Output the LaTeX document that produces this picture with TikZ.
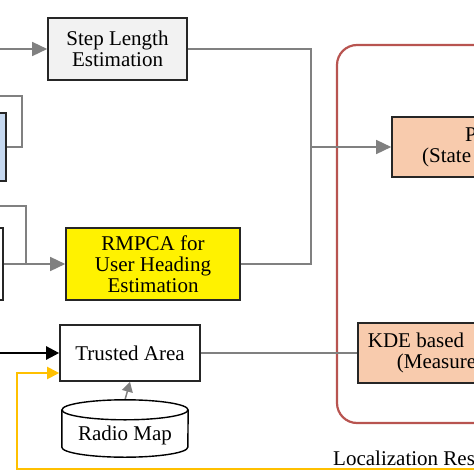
\documentclass[tikz,border=0pt]{standalone}
\usepackage{fontspec}
\setmainfont{Liberation Serif}
\usetikzlibrary{arrows.meta}

\definecolor{peach}{RGB}{248,203,173}
\definecolor{paleblue}{RGB}{198,217,240}
\definecolor{filterred}{RGB}{184,84,80}
\definecolor{amber}{RGB}{255,192,0}
\definecolor{linegray}{RGB}{128,128,128}
\definecolor{stepgray}{RGB}{242,242,242}

\begin{document}
\begin{tikzpicture}[x=1pt, y=-1pt, >={Triangle[length=15pt,width=14pt]},
  font=\fontsize{21}{21}\selectfont,
  block/.style={rectangle, draw=black!85, line width=1.6pt, inner sep=0pt, align=center},
  link/.style={draw=linegray, line width=1.5pt},
  fb/.style={draw=amber, line width=2pt, -{Triangle[length=12pt,width=12pt]}, amber}]
  \useasboundingbox (0,0) rectangle (474,474);

  % Nodes
  \node[block, fill=stepgray, minimum width=139pt, minimum height=62pt] (steplen) at (117.5,49) {Step Length\\Estimation};
  \node[block, fill=paleblue, minimum width=66pt, minimum height=68pt] (imu) at (-27,147) {};
  \node[block, fill=white, minimum width=66pt, minimum height=72pt] (mag) at (-30,264) {};
  \node[block, fill=yellow, minimum width=174pt, minimum height=72pt] (rmpca) at (153,264) {RMPCA for\\User Heading\\Estimation};
  \node[block, fill=white, minimum width=140pt, minimum height=56pt] (trusted) at (130,353) {Trusted Area};
  \node[minimum width=126pt, minimum height=57pt, inner sep=0pt] (radio) at (125,428.5) {\raisebox{-12pt}[0pt][0pt]{Radio Map}};
  \node[anchor=base west, inner sep=0pt] (result) at (333,465) {Localization Res};

  % Inputs
  \coordinate (accin) at (0,49);
  \coordinate (imuin) at (0,96);
  \coordinate (magin) at (0,206);
  \coordinate (tin) at (0,353);
  \coordinate (merge) at (311,147);
  \coordinate (res) at (490,469);
  \coordinate (fbcorner) at (17,469);

  % Edges
  \draw[link,->] (accin) -- (steplen.west);
  \draw[link] (imuin) -| ([xshift=15pt]imu.east) -- (imu.east);
  \draw[link] (magin) -| ([xshift=22pt]mag.east);
  \draw[link,->] (mag.east) -- (rmpca.west);
  \draw[link] (steplen.east) -| (merge) |- (rmpca.east);
  \draw[line width=2.4pt, -{Triangle[length=13pt,width=13pt]}] (tin) -- (trusted.west);
  \draw[fb] (res) -- (fbcorner) |- ([yshift=-20pt]trusted.west);
  \draw[link, -{Triangle[length=10pt,width=11pt]}] (radio.north) -- (trusted.south);

  % radio map drum
  \draw[line width=1.4pt] ([yshift=-10pt]radio.north) ellipse [x radius=63pt, y radius=10pt];
  \draw[line width=1.4pt] ([yshift=-10pt]radio.north west) -- ([yshift=10pt]radio.south west)
    arc[start angle=180, end angle=360, x radius=63pt, y radius=10pt] -- ([yshift=-10pt]radio.north east);

  % Filter
  \node[draw=filterred, line width=2.2pt, rounded corners=20pt, minimum width=200pt, minimum height=378pt] (filter) at (437,234) {};
  \node[block, fill=peach, minimum width=115pt, minimum height=60pt, align=left] (pf) at (449.5,147) {\hspace*{43pt}P\\(State};
  \node[block, fill=peach, minimum width=128pt, minimum height=60pt, align=left] (kde) at (422,353) {KDE based\\\hspace*{29pt}(Measure};
  \draw[link,->] (merge) -- (pf.west);
  \draw[link] (trusted.east) -- (kde.west);
\end{tikzpicture}
\end{document}
